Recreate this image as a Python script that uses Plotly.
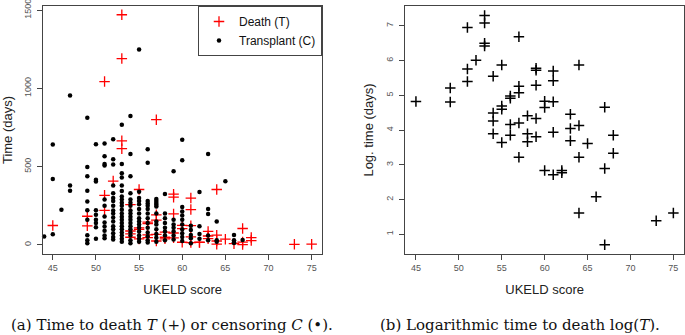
import numpy as np
import plotly.graph_objects as go

W, H = 685, 335

# ---- data: deaths (T) ----
death_score = [45, 49, 49, 51, 51, 51, 52, 53, 53, 53, 53, 54, 54, 54, 54,
               55, 55, 55, 55, 56, 56, 56, 56, 57, 57, 57, 57, 57, 58, 58, 58,
               59, 59, 59, 59, 59, 60, 60, 60, 61, 61, 61, 61, 61, 62, 62,
               63, 63, 63, 64, 64, 64, 64, 65, 66, 67, 67, 67, 68, 68, 73, 75]
death_days = [124, 183, 122, 1043, 317, 221, 408, 1470, 1190, 665, 615, 257, 89, 71, 49,
              354, 109, 99, 38, 145, 136, 64, 47, 800, 192, 159, 67, 25, 82, 49, 39,
              324, 305, 198, 76, 45, 125, 104, 17, 299, 226, 123, 51, 15, 17, 16,
              86, 57, 40, 354, 62, 25, 5, 37, 8, 105, 18, 2, 47, 28, 4, 5]

# ---- data: transplants (censoring C) ----
transplant_score = (
    [44] + [45] * 3 + [46] + [47] * 3 +
    [49] * 10 + [50] * 9 + [51] * 12 + [52] * 17 + [53] * 21 + [54] * 18 +
    [55] * 15 + [56] * 14 + [57] * 12 + [58] * 8 + [59] * 7 + [60] * 11 +
    [61] * 5 + [62] * 4 + [63] * 5 + [64] * 3 + [65] + [66] * 4 + [67]
)
transplant_days = (
    [53] + [641, 421, 68] + [224] + [955, 380, 346] +
    [812, 498, 438, 346, 278, 222, 160, 62, 30, 11] +
    [643, 417, 405, 222, 192, 160, 140, 113, 40] +
    [647, 566, 517, 508, 290, 250, 181, 143, 118, 90, 60, 43] +
    [675, 547, 514, 380, 330, 300, 280, 250, 220, 200, 175, 150, 120, 100, 75, 50, 35] +
    [767, 517, 458, 430, 380, 345, 310, 290, 270, 250, 225, 200, 180, 160, 140, 120, 100, 80, 60, 40, 20] +
    [823, 581, 438, 330, 290, 270, 250, 220, 200, 180, 160, 140, 120, 100, 80, 60, 30, 10] +
    [1248, 340, 300, 280, 260, 230, 200, 170, 150, 130, 110, 85, 60, 40, 20] +
    [611, 525, 280, 265, 250, 230, 200, 170, 140, 110, 80, 55, 30, 15] +
    [293, 280, 268, 256, 246, 200, 150, 130, 100, 70, 45, 20] +
    [325, 200, 170, 140, 110, 85, 60, 30] +
    [470, 160, 130, 110, 85, 60, 35] +
    [671, 540, 242, 214, 188, 160, 130, 100, 75, 50, 25] +
    [122, 96, 64, 43, 11] +
    [338, 120, 70, 40] +
    [581, 229, 197, 60, 30] +
    [149, 30, 20] +
    [406] +
    [64, 30, 17, 12] +
    [32]
)

x_ticks = [45, 50, 55, 60, 65, 70, 75]
y1_ticks = [0, 500, 1000, 1500]
y2_ticks = [1, 2, 3, 4, 5, 6, 7]

death_log = np.log(np.array(death_days, dtype=float))

# ---- layout helpers (pixel -> paper) ----
def px_x(x):
    return x / W

def px_y(y):
    return (H - y) / H

fig = go.Figure()

fig.add_trace(go.Scatter(
    x=death_score, y=death_days, mode="markers", name="Death (T)",
    marker=dict(symbol="cross-thin", size=7.5, line=dict(color="#ff0000", width=1.3), color="#ff0000"),
    xaxis="x", yaxis="y", cliponaxis=False,
))
fig.add_trace(go.Scatter(
    x=transplant_score, y=transplant_days, mode="markers", name="Transplant (C)",
    marker=dict(symbol="circle", size=4.5, color="#000000"),
    xaxis="x", yaxis="y", cliponaxis=False,
))
fig.add_trace(go.Scatter(
    x=death_score, y=death_log, mode="markers", name="log(T)", showlegend=False,
    marker=dict(symbol="cross-thin", size=7.5, line=dict(color="#000000", width=1.5), color="#000000"),
    xaxis="x2", yaxis="y2", cliponaxis=False,
))

axis_common = dict(
    showline=True, mirror=True, linecolor="#444444", linewidth=1,
    ticks="outside", ticklen=5, tickwidth=1, tickcolor="#444444",
    showgrid=False, zeroline=False, automargin=False,
    ticklabeloverflow="allow",
    tickfont=dict(family="Liberation Sans, Arial", size=9, color="#555555"),
    title_font=dict(family="Liberation Sans, Arial", size=13, color="#222222"),
)

fig.update_layout(
    width=W, height=H, template="none",
    margin=dict(l=0, r=0, t=0, b=0),
    paper_bgcolor="white", plot_bgcolor="white",
    showlegend=True,
    xaxis=dict(axis_common, domain=[px_x(43.3), px_x(322)], range=[43.9, 76.2],
               tickvals=x_ticks, anchor="y",
               title=dict(text="UKELD score", standoff=13)),
    yaxis=dict(axis_common, domain=[px_y(254), px_y(6)], range=[-58, 1526],
               tickvals=y1_ticks, tickangle=-90, anchor="x", ticklabelstandoff=3,
               title=dict(text="Time (days)", standoff=8)),
    xaxis2=dict(axis_common, domain=[px_x(405.3), px_x(684)], range=[43.76, 76.24],
                tickvals=x_ticks, anchor="y2",
                title=dict(text="UKELD score", standoff=13)),
    yaxis2=dict(axis_common, domain=[px_y(254), px_y(6)], range=[0.43, 7.57],
                tickvals=y2_ticks, tickangle=-90, anchor="x2", ticklabelstandoff=3,
                title=dict(text="Log. time (days)", standoff=8)),
    legend=dict(
        x=px_x(322), y=px_y(6), xanchor="right", yanchor="top",
        bordercolor="#444444", borderwidth=1, bgcolor="white",
        font=dict(family="Liberation Sans, Arial", size=12, color="#111111"),
        itemwidth=30, tracegroupgap=0,
    ),
    annotations=[
        dict(text="(a) Time to death <i>T</i> (+) or censoring <i>C</i> (\u2022).",
             x=px_x(172), y=px_y(325), xref="paper", yref="paper",
             showarrow=False, xanchor="center", yanchor="middle",
             font=dict(family="DejaVu Serif", size=15, color="#111111")),
        dict(text="(b) Logarithmic time to death log(<i>T</i>).",
             x=px_x(520), y=px_y(325), xref="paper", yref="paper",
             showarrow=False, xanchor="center", yanchor="middle",
             font=dict(family="DejaVu Serif", size=15, color="#111111")),
    ],
)

fig.write_html("out.html", config={"displayModeBar": False},
               post_script="document.body.style.margin='0';")
